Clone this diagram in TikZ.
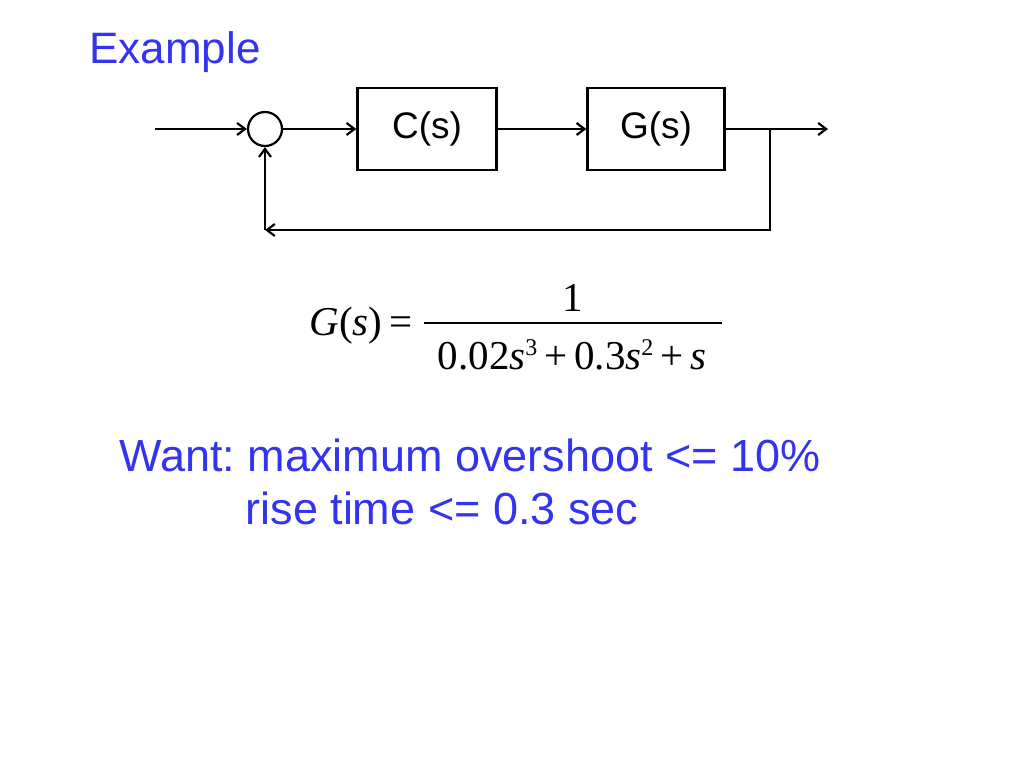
\documentclass[tikz,border=0pt]{standalone}
\usepackage{fontspec}
\setmainfont{Liberation Sans}
\newfontfamily\tms{Liberation Serif}
\usetikzlibrary{arrows.meta}
\definecolor{myblue}{RGB}{51,51,240}
\begin{document}
\frenchspacing
\begin{tikzpicture}[x=1pt,y=-1pt,
  ln/.style={line width=2.2pt},
  ar/.style={ln,-{Straight Barb[length=8pt,width=12pt]}},
  blk/.style={draw,line width=2.2pt,minimum width=139pt,minimum height=82pt,font=\fontsize{37}{40}\selectfont}]
\useasboundingbox (0,0) rectangle (1024,768);
\node[myblue,font=\fontsize{44}{48}\selectfont,anchor=west] (ex) at (86,52) {Example};
\node[draw,circle,line width=2.2pt,minimum size=34pt,inner sep=0] (sum) at (265,129) {};
\node[blk] (C) at (427,129) {C(s)};
\node[blk,minimum width=137pt] (G) at (656,129) {G(s)};
\coordinate (in) at (155,129);
\coordinate (out) at (828,129);
\coordinate (br) at (770,129);
\coordinate (b1) at (770,230);
\coordinate (b2) at (265,230);
\draw[ar] (in) -- (sum.west);
\draw[ar] (sum.east) -- (C.west);
\draw[ar] (C.east) -- (G.west);
\draw[ar] (G.east) -- (out);
\draw[ar] (br) -- (b1) -- (b2);
\draw[ar] (b2) -- (sum.south);
\node[font=\tms\fontsize{41}{46}\selectfont,anchor=east] (eq) at (416,326) {\textit{G}(\textit{s})\,=};
\node[font=\tms\fontsize{41}{46}\selectfont] (num) at (573,298) {1};
\draw[line width=1.3pt] (424,323) -- (722,323);
\node[font=\tms\fontsize{41}{46}\selectfont] (den) at (572,355) {0.02\textit{s}\raisebox{14pt}{\fontsize{24}{26}\selectfont 3}\,+\,0.3\textit{s}\raisebox{14pt}{\fontsize{24}{26}\selectfont 2}\,+\,\textit{s}};
\node[myblue,font=\fontsize{45}{50}\selectfont,anchor=west] (w1) at (116,455) {Want: maximum overshoot <= 10\%};
\node[myblue,font=\fontsize{45}{50}\selectfont,anchor=west] (w2) at (242,508) {rise time <= 0.3 sec};
\end{tikzpicture}
\end{document}
